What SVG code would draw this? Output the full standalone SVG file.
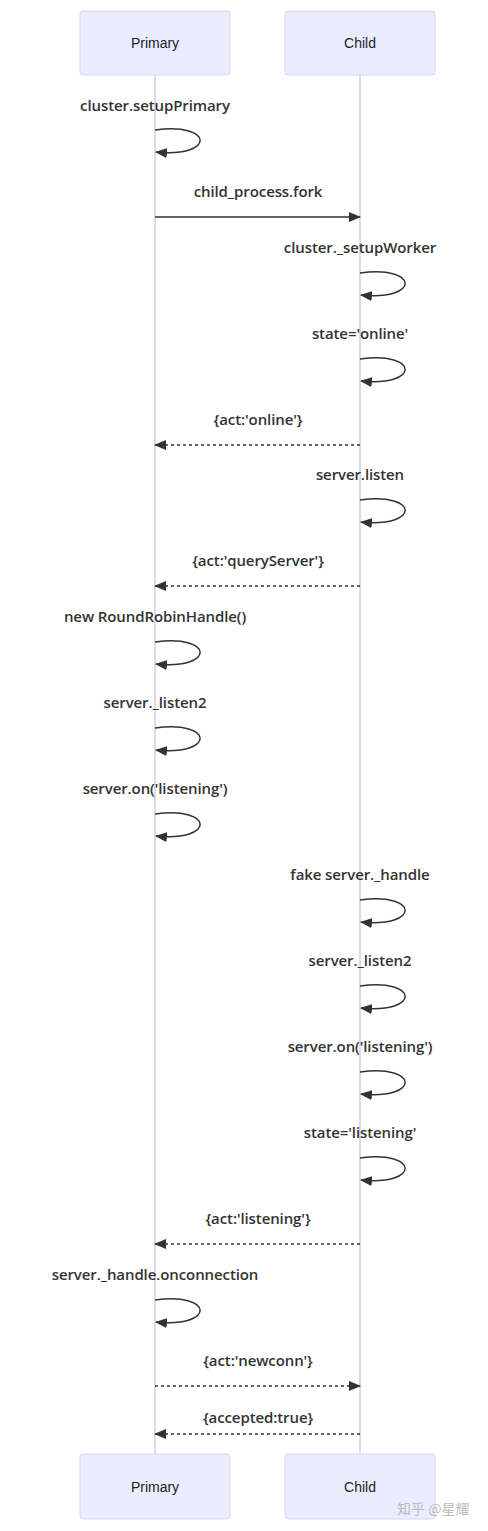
<svg xmlns="http://www.w3.org/2000/svg" width="488" height="1531" viewBox="0 0 488 1531">
<style>
.actor{fill:#ECECFF;stroke:#d8d8f2;stroke-width:1}
.atext{font-family:"Liberation Sans",Arial,sans-serif;font-size:14px;fill:#222;text-anchor:middle;dominant-baseline:central}
.life{stroke:#cfcde8;stroke-width:1.5}
.msg{font-family:"Open Sans","Liberation Sans",sans-serif;font-size:15px;font-weight:600;fill:#333;text-anchor:middle;dominant-baseline:central;letter-spacing:-0.1px}
.line{stroke:#333;stroke-width:1.5;fill:none}
.dash{stroke-dasharray:3,3}
.wm{font-family:"Noto Sans CJK SC","Liberation Sans",sans-serif;font-size:14px;fill:#bbb}
</style>
<defs>
<marker id="ah" viewBox="0 0 12 10" refX="11" refY="5" markerWidth="12" markerHeight="10" markerUnits="userSpaceOnUse" orient="auto">
<path d="M0,0 L12,5 L0,10 z" fill="#333"/>
</marker>
</defs>
<rect width="488" height="1531" fill="#fff"/>
<g id="lifelines">
<line class="life" x1="155" y1="75" x2="155" y2="1454"/>
<line class="life" x1="360" y1="75" x2="360" y2="1454"/>
</g>
<g id="actor-primary-top"><rect class="actor" x="80" y="11" width="150" height="64" rx="3"/><text class="atext" x="155" y="43">Primary</text></g>
<g id="actor-child-top"><rect class="actor" x="285" y="11" width="150" height="64" rx="3"/><text class="atext" x="360" y="43">Child</text></g>
<g id="actor-primary-bottom"><rect class="actor" x="80" y="1454" width="150" height="65" rx="3"/><text class="atext" x="155" y="1487">Primary</text></g>
<g id="actor-child-bottom"><rect class="actor" x="285" y="1454" width="150" height="65" rx="3"/><text class="atext" x="360" y="1487">Child</text></g>
<g id="connectors">
<path class="line" marker-end="url(#ah)" d="M155,130 C215,122 215,158 156,152"/>
<line class="line" marker-end="url(#ah)" x1="155" y1="217" x2="360" y2="217"/>
<path class="line" marker-end="url(#ah)" d="M360,273 C420,265 420,301 361,295"/>
<path class="line" marker-end="url(#ah)" d="M360,359 C420,351 420,387 361,381"/>
<line class="line dash" marker-end="url(#ah)" x1="360" y1="445" x2="155" y2="445"/>
<path class="line" marker-end="url(#ah)" d="M360,500 C420,492 420,528 361,522"/>
<line class="line dash" marker-end="url(#ah)" x1="360" y1="586" x2="155" y2="586"/>
<path class="line" marker-end="url(#ah)" d="M155,642 C215,634 215,670 156,664"/>
<path class="line" marker-end="url(#ah)" d="M155,728 C215,720 215,756 156,750"/>
<path class="line" marker-end="url(#ah)" d="M155,814 C215,806 215,842 156,836"/>
<path class="line" marker-end="url(#ah)" d="M360,900 C420,892 420,928 361,922"/>
<path class="line" marker-end="url(#ah)" d="M360,986 C420,978 420,1014 361,1008"/>
<path class="line" marker-end="url(#ah)" d="M360,1072 C420,1064 420,1100 361,1094"/>
<path class="line" marker-end="url(#ah)" d="M360,1158 C420,1150 420,1186 361,1180"/>
<line class="line dash" marker-end="url(#ah)" x1="360" y1="1244" x2="155" y2="1244"/>
<path class="line" marker-end="url(#ah)" d="M155,1300 C215,1292 215,1328 156,1322"/>
<line class="line dash" marker-end="url(#ah)" x1="155" y1="1386" x2="360" y2="1386"/>
<line class="line dash" marker-end="url(#ah)" x1="360" y1="1434" x2="155" y2="1434"/>
</g>
<g id="labels">
<text class="msg" x="155" y="105">cluster.setupPrimary</text>
<text class="msg" x="258" y="191">child_process.fork</text>
<text class="msg" x="360" y="247">cluster._setupWorker</text>
<text class="msg" x="360" y="333">state='online'</text>
<text class="msg" x="258" y="419">{act:'online'}</text>
<text class="msg" x="360" y="474">server.listen</text>
<text class="msg" x="258" y="560">{act:'queryServer'}</text>
<text class="msg" x="155" y="616">new RoundRobinHandle()</text>
<text class="msg" x="155" y="702">server._listen2</text>
<text class="msg" x="155" y="788">server.on('listening')</text>
<text class="msg" x="360" y="874">fake server._handle</text>
<text class="msg" x="360" y="960">server._listen2</text>
<text class="msg" x="360" y="1046">server.on('listening')</text>
<text class="msg" x="360" y="1132">state='listening'</text>
<text class="msg" x="258" y="1218">{act:'listening'}</text>
<text class="msg" x="155" y="1274">server._handle.onconnection</text>
<text class="msg" x="258" y="1360">{act:'newconn'}</text>
<text class="msg" x="258" y="1417">{accepted:true}</text>
</g>
<text class="wm" x="397" y="1514">知乎 @星耀</text>
</svg>
